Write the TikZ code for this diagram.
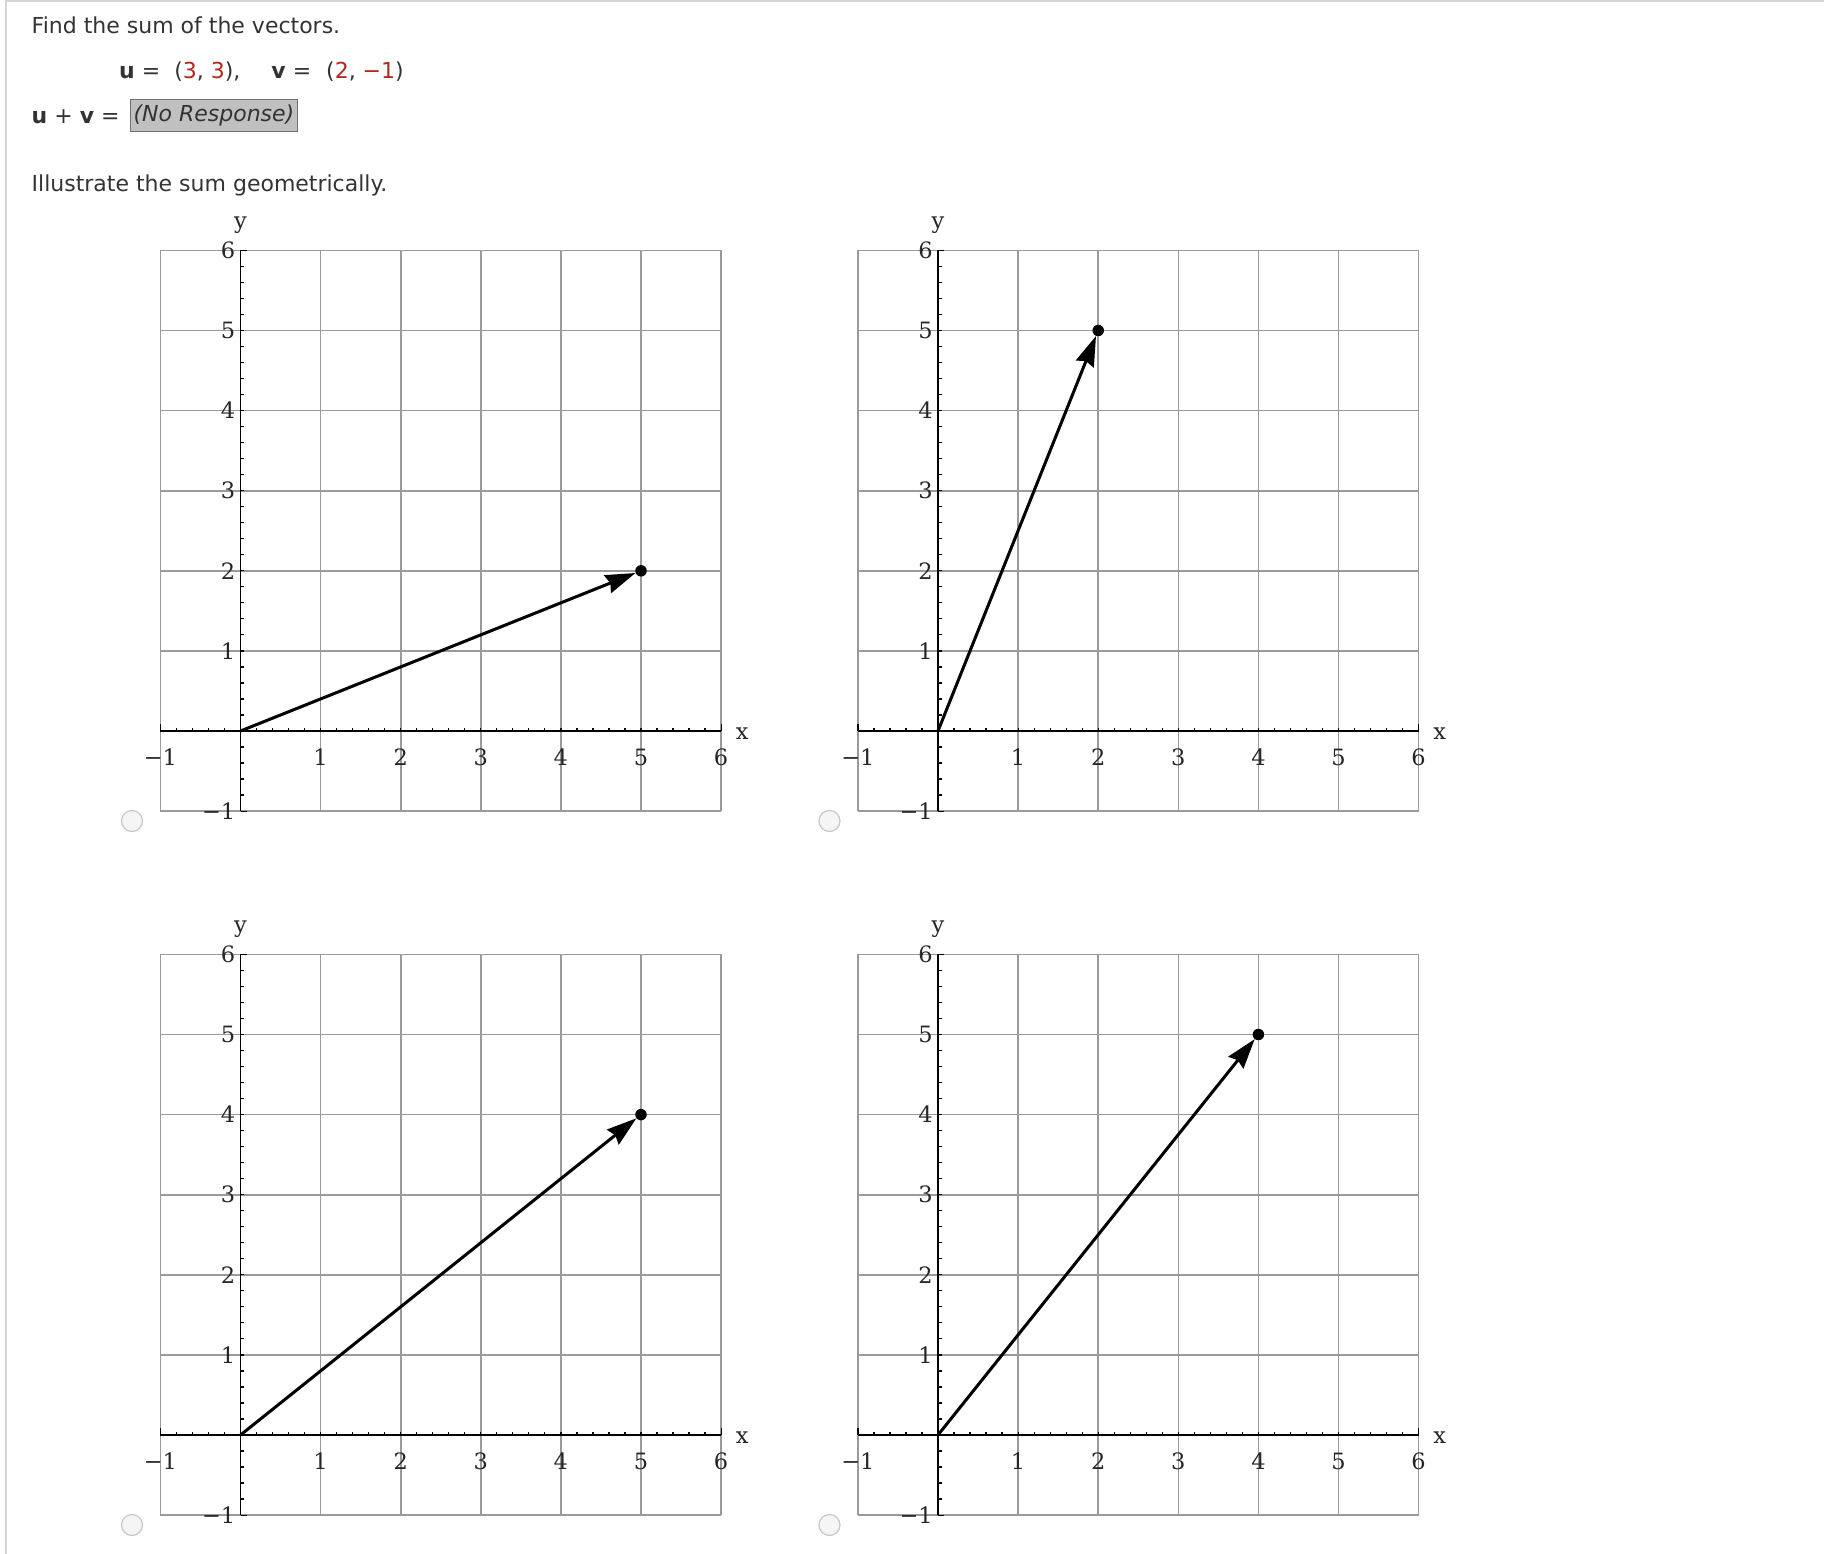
\documentclass[tikz,border=0pt]{standalone}
\usepackage{fontspec}
\setmainfont{DejaVu Sans}
\newfontfamily\serifaxis{DejaVu Serif}
\usetikzlibrary{arrows.meta}
\definecolor{textgray}{HTML}{333333}
\definecolor{valred}{HTML}{B5261B}
\definecolor{gridgray}{HTML}{9A9A9A}
\definecolor{respfill}{HTML}{C0C0C0}
\definecolor{respedge}{HTML}{707070}
\definecolor{pageframe}{HTML}{D6D6D6}
\definecolor{radioedge}{HTML}{C8C8C8}
\definecolor{radiofill}{HTML}{F5F5F5}
\tikzset{
  prompt/.style={anchor=base west, inner sep=0pt, text=textgray, font=\fontsize{22}{26}\selectfont},
  gridline/.style={draw=gridgray, line width=1.6pt},
  axisline/.style={draw=black, line width=1.8pt},
  ticks/.style={draw=black, line width=1.2pt},
  numlabel/.style={inner sep=0pt, text=black!85, font=\serifaxis\fontsize{22.5}{26}\selectfont},
  vecline/.style={draw=black, line width=3pt, -{Stealth[length=30pt,width=19pt,inset=3pt]}},
  tipdot/.style={circle, fill=black, inner sep=0pt, minimum size=11.5pt},
  radio/.style={circle, draw=radioedge, fill=radiofill, line width=1.2pt, minimum size=21pt, inner sep=0pt}
}
\begin{document}
\begin{tikzpicture}[x=1pt,y=-1pt]
\useasboundingbox (0,0) rectangle (1824,1554);
\draw[pageframe, line width=2pt] (6,0) -- (6,1554);
\draw[pageframe, line width=2pt] (6,1) -- (1824,1);

\node[prompt] (find) at (31.5,34) {Find the sum of the vectors.};
\node[prompt] (given) at (119,79) {\textbf{u} = \hspace{7pt}(\textcolor{valred}{3}, \textcolor{valred}{3}),\hspace{31pt}\textbf{v} = \hspace{8pt}(\textcolor{valred}{2}, \textcolor{valred}{−1})};
\node[prompt] (sumlbl) at (31.5,124) {\textbf{u} + \textbf{v} =};
\node[anchor=west, draw=respedge, fill=respfill, line width=1.2pt, minimum height=32pt, inner xsep=3pt, text=textgray, font=\itshape\fontsize{22}{26}\selectfont] (resp) at (130,115.5) {(No Response)};
\node[prompt] (illus) at (31.5,192) {Illustrate the sum geometrically.};

\foreach \ox/\oy/\vx/\vy/\n in {240.5/731/5/2/a, 938/731/2/5/b, 240.5/1435/5/4/c, 938/1435/4/5/d}{
  \node[radio] (radio\n) at (\ox-108.5,\oy+90) {};
  \begin{scope}[shift={(\ox,\oy)}, x=80.1pt, y=80.1pt]
    \foreach \g in {-1,...,6}
      \draw[gridline] (\g,-1) -- (\g,6) (-1,\g) -- (6,\g);
    \draw[axisline] (-1,0) -- (6,0);
    \draw[axisline] (0,-1) -- (0,6);
    \foreach \k in {-4,...,29}
      \draw[ticks] (\k/5,0) -- ++(0pt,3.5pt) (0,\k/5) -- ++(3.5pt,0pt);
    \draw[ticks] (-1,0) -- ++(0pt,7pt) (6,0) -- ++(0pt,7pt) (0,-1) -- ++(6pt,0pt) (0,6) -- ++(6pt,0pt);
    \foreach \i in {1,...,6} {
      \node[numlabel] (xl\n\i) at (\i,0) [yshift=-26pt] {\i};
      \node[numlabel, anchor=east] (yl\n\i) at (0,\i) [xshift=-5pt] {\i};
    }
    \node[numlabel] (xlm\n) at (-1,0) [yshift=-26pt] {−1};
    \node[numlabel, anchor=east] (ylm\n) at (0,-1) [xshift=-5pt] {−1};
    \node[numlabel] (xname\n) at (6,0) [xshift=21pt, yshift=-3pt] {x};
    \node[numlabel] (yname\n) at (0,6) [yshift=25pt] {y};
    \coordinate (o\n) at (0,0);
    \node[tipdot] (p\n) at (\vx,\vy) {};
    \draw[vecline] (o\n) -- (p\n);
  \end{scope}
}
\end{tikzpicture}
\end{document}
